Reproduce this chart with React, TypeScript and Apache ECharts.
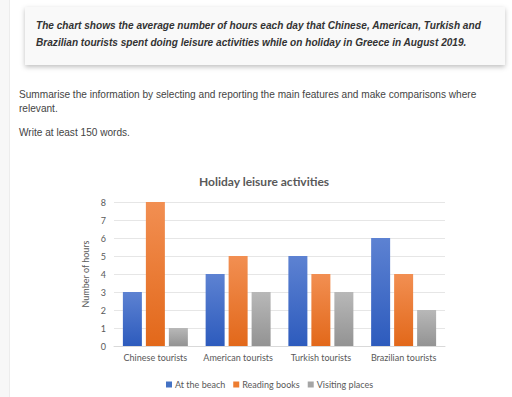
import React, { useEffect, useRef } from "react";
import * as echarts from "echarts";

const categories = ["Chinese tourists", "American tourists", "Turkish tourists", "Brazilian tourists"];
const atTheBeach = [3, 4, 5, 6];
const readingBooks = [8, 5, 4, 4];
const visitingPlaces = [1, 3, 3, 2];
const seriesNames = ["At the beach", "Reading books", "Visiting places"];
const chartTitle = "Holiday leisure activities";
const yAxisTitle = "Number of hours";
const promptLines = [
  "The chart shows the average number of hours each day that Chinese, American, Turkish and",
  "Brazilian tourists spent doing leisure activities while on holiday in Greece in August 2019.",
];
const instructionLines = [
  "Summarise the information by selecting and reporting the main features and make comparisons where",
  "relevant.",
];
const wordCountLine = "Write at least 150 words.";

const grad = (top: string, bottom: string) =>
  new echarts.graphic.LinearGradient(0, 0, 0, 1, [
    { offset: 0, color: top },
    { offset: 1, color: bottom },
  ]);

export default function App() {
  const ref = useRef<HTMLDivElement>(null);
  useEffect(() => {
    if (!ref.current) return;
    const chart = echarts.init(ref.current, null, { renderer: "svg" });
    const font = "Lato, 'Open Sans', sans-serif";
    const arial = "Arial, 'Liberation Sans', sans-serif";
    chart.setOption({
      animation: false,
      backgroundColor: "#ffffff",
      title: {
        text: chartTitle,
        left: 194,
        top: 170,
        textStyle: { fontSize: 12, fontWeight: "bold", color: "#595959", fontFamily: font },
      },
      legend: {
        left: 161,
        top: 375,
        itemWidth: 6,
        itemHeight: 6,
        itemGap: 8,
        icon: "rect",
        textStyle: { fontSize: 9, color: "#595959", fontFamily: font, padding: [0, 0, 0, -2] },
        data: [
          { name: seriesNames[0], itemStyle: { color: "#4472C4" } },
          { name: seriesNames[1], itemStyle: { color: "#ED7D31" } },
          { name: seriesNames[2], itemStyle: { color: "#A5A5A5" } },
        ],
      },
      grid: { left: 114, right: 67, top: 202, bottom: 51 },
      xAxis: {
        type: "category",
        data: categories,
        axisLine: { lineStyle: { color: "#d9d9d9" } },
        axisTick: { show: false },
        axisLabel: { fontSize: 9, color: "#595959", margin: 7, fontFamily: font, interval: 0 },
      },
      yAxis: {
        type: "value",
        min: 0,
        max: 8,
        interval: 1,
        name: yAxisTitle,
        nameLocation: "middle",
        nameGap: 17,
        nameTextStyle: { fontSize: 9, color: "#595959", fontFamily: font },
        axisLine: { show: false },
        axisTick: { show: false },
        splitLine: { lineStyle: { color: "#e6e6e6" } },
        axisLabel: { fontSize: 9, color: "#595959", margin: 8, fontFamily: font },
      },
      series: [
        {
          name: seriesNames[0],
          type: "bar",
          data: atTheBeach,
          barWidth: 19,
          barGap: "21%",
          itemStyle: { color: grad("#5d82d2", "#2d5bbd") },
        },
        {
          name: seriesNames[1],
          type: "bar",
          data: readingBooks,
          barWidth: 19,
          barGap: "21%",
          itemStyle: { color: grad("#f28f52", "#e2681a") },
        },
        {
          name: seriesNames[2],
          type: "bar",
          data: visitingPlaces,
          barWidth: 19,
          barGap: "21%",
          itemStyle: { color: grad("#b8b8b8", "#939393") },
        },
      ],
      graphic: [
        { type: "rect", shape: { x: 0, y: 0, width: 9, height: 397 }, style: { fill: "#f7f7f7" }, silent: true },
        { type: "line", shape: { x1: 9.5, y1: 0, x2: 9.5, y2: 397 }, style: { stroke: "#ececec", lineWidth: 1 }, silent: true },
        {
          type: "rect",
          shape: { x: 25, y: 7, width: 480, height: 58 },
          style: { fill: "#f9f9f9", shadowBlur: 5, shadowColor: "rgba(0,0,0,0.25)", shadowOffsetY: 2 },
          silent: true,
        },
        ...promptLines.map((t, i) => ({
          type: "text",
          x: 36,
          y: 25 + i * 17,
          style: {
            text: t,
            fontSize: 10.1,
            fontWeight: "bold",
            fontStyle: "italic",
            fontFamily: arial,
            fill: "#333333",
            verticalAlign: "middle",
          },
          silent: true,
        })),
        ...instructionLines.map((t, i) => ({
          type: "text",
          x: 19,
          y: 94 + i * 14,
          style: { text: t, fontSize: 10.1, fontFamily: arial, fill: "#444444", verticalAlign: "middle" },
          silent: true,
        })),
        {
          type: "text",
          x: 19,
          y: 132,
          style: { text: wordCountLine, fontSize: 10.1, fontFamily: arial, fill: "#444444", verticalAlign: "middle" },
          silent: true,
        },
      ],
    });
    return () => chart.dispose();
  }, []);
  return (
    <div style={{ position: "fixed", left: 0, top: 0, width: 512, height: 397 }}>
      <div ref={ref} style={{ width: 512, height: 397 }} />
    </div>
  );
}
